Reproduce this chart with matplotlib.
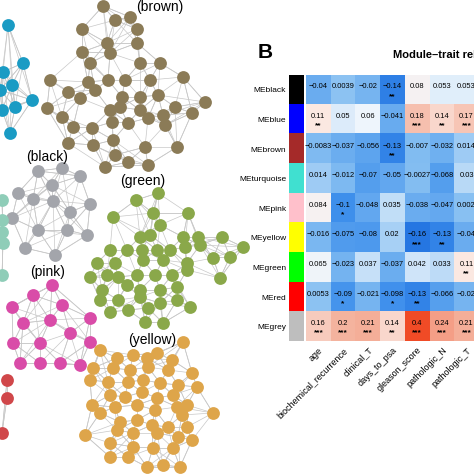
import numpy as np
import matplotlib.pyplot as plt
from matplotlib.colors import LinearSegmentedColormap, Normalize

plt.rcParams['font.family'] = ['Liberation Sans', 'DejaVu Sans']

# ---- panel A: module networks (node positions, in px) ----
brown_nodes = [(103,6),(115,20),(130,17),(137,29),(82,29),(107,43),(137,43),(82,52),(110,53),
               (140,63),(160,63),(90,63),(50,80),(88,82),(108,80),(125,80),(150,80),(183,77),
               (68,92),(95,90),(122,97),(140,97),(158,95),(175,107),(205,102),(47,108),(80,98),
               (110,110),(120,107),(140,110),(163,115),(192,113),(62,117),(73,127),(92,128),
               (112,122),(128,123),(148,118),(165,125),(68,143),(93,145),(113,140),(145,147),
               (177,147),(115,155),(128,162),(148,165),(105,167)]
blue_nodes = [(8,25),(23,63),(3,72),(12,85),(32,100),(15,107),(2,110),(10,133),(0,90)]
black_nodes = [(38,171),(62,168),(52,185),(80,176),(18,193),(33,199),(53,201),(90,204),(70,212),
               (12,218),(38,230),(67,230),(87,235),(25,248),(55,255)]
turquoise_nodes = [(2,200),(2,220),(2,232),(3,243),(2,275)]
green_nodes = [(136,200),(158,193),(188,213),(113,217),(153,213),(160,225),(140,237),(150,235),
               (183,237),(198,237),(222,237),(243,247),(110,250),(127,250),(142,250),(157,250),
               (170,250),(185,247),(200,245),(213,258),(97,263),(115,263),(143,260),(163,260),
               (187,263),(230,257),(90,277),(107,275),(118,277),(137,275),(155,275),(172,275),
               (187,270),(220,278),(102,290),(127,285),(140,290),(160,290),(177,287),(100,300),
               (118,300),(140,297),(160,303),(177,300),(190,307),(110,312),(128,310),(148,308),
               (145,322),(163,323)]
pink_nodes = [(52,285),(33,295),(12,307),(62,305),(50,320),(23,323),(90,318),(70,333),(13,343),
              (40,343),(90,342),(20,363),(40,363),(60,363),(80,365)]
yellow_nodes = [(183,342),(100,350),(117,358),(133,355),(147,358),(157,353),(172,360),(93,368),
                (113,368),(130,370),(148,367),(168,370),(192,373),(90,380),(108,382),(128,382),
                (143,380),(160,383),(178,385),(197,387),(110,395),(125,397),(142,392),(157,398),
                (173,395),(187,405),(92,405),(115,407),(137,405),(155,410),(177,407),(182,415),
                (213,413),(100,413),(120,422),(137,420),(152,425),(168,427),(187,427),(117,430),
                (85,435),(110,443),(133,433),(157,433),(178,437),(192,440),(133,447),(153,448),
                (173,448),(110,457),(128,457),(147,467),(163,465),(180,467)]
red_nodes = [(7,380),(7,398),(2,433)]

modules = [
    (brown_nodes, '#8b7b57', '(brown)', (160, 7)),
    (blue_nodes, '#1a9bc4', None, None),
    (black_nodes, '#a3a5ab', '(black)', (47, 157)),
    (turquoise_nodes, '#8fcdb8', None, None),
    (green_nodes, '#8aa84a', '(green)', (143, 181)),
    (pink_nodes, '#d94ca8', '(pink)', (48, 272)),
    (yellow_nodes, '#dea54a', '(yellow)', (152, 340)),
    (red_nodes, '#d0474a', None, None),
]

# ---- panel B: module-trait relationships ----
modules_me = ['MEblack', 'MEblue', 'MEbrown', 'MEturquoise', 'MEpink',
              'MEyellow', 'MEgreen', 'MEred', 'MEgrey']
me_colors = ['black', '#0000ff', '#a52a2a', '#40e0d0', '#ffc0cb',
             '#ffff00', '#00ff00', '#ff0000', '#bebebe']
traits = ['age', 'biochemical_recurrence', 'clinical_T', 'days_to_psa',
          'gleason_score', 'pathologic_N', 'pathologic_T']
corr = np.array([
    [-0.04, 0.0039, -0.02, -0.14, 0.08, 0.053, 0.053],
    [0.11, 0.05, 0.06, -0.041, 0.18, 0.14, 0.17],
    [-0.0083, -0.037, -0.056, -0.13, -0.007, -0.032, 0.014],
    [0.014, -0.012, -0.07, -0.05, -0.0027, -0.068, 0.03],
    [0.084, -0.1, -0.048, 0.035, -0.038, -0.047, 0.002],
    [-0.016, -0.075, -0.08, 0.02, -0.16, -0.13, -0.04],
    [0.065, -0.023, 0.037, -0.037, 0.042, 0.033, 0.11],
    [0.0053, -0.09, -0.021, -0.098, -0.13, -0.066, -0.02],
    [0.16, 0.2, 0.21, 0.14, 0.4, 0.24, 0.21],
])
stars = [
    ['', '', '', '**', '', '', ''],
    ['**', '', '', '', '***', '**', '***'],
    ['', '', '', '**', '', '', ''],
    ['', '', '', '', '', '', ''],
    ['', '*', '', '', '', '', ''],
    ['', '', '', '', '***', '**', ''],
    ['', '', '', '', '', '', '**'],
    ['', '*', '', '*', '**', '', ''],
    ['***', '***', '***', '**', '***', '***', '***'],
]

W = 474
fig = plt.figure(figsize=(W / 100, W / 100), dpi=100)

ax = fig.add_axes([0, 0, 1, 1])
ax.set_xlim(0, W)
ax.set_ylim(W, 0)
ax.axis('off')
for nodes, col, label, lpos in modules:
    pts = np.array(nodes, dtype=float)
    d = np.hypot(pts[:, None, 0] - pts[None, :, 0], pts[:, None, 1] - pts[None, :, 1])
    k = min(6, len(pts) - 1)
    for i in range(len(pts)):
        for j in np.argsort(d[i])[1:k + 1]:
            ax.plot([pts[i, 0], pts[j, 0]], [pts[i, 1], pts[j, 1]],
                    color='#c8c8c8', lw=0.5, zorder=1)
    ax.scatter(pts[:, 0], pts[:, 1], s=85, color=col, zorder=2, linewidths=0)
    if label:
        ax.text(lpos[0], lpos[1], label, fontsize=10, ha='center', va='center')

hm_left, hm_top, cw, rh = 306, 75, 24.7, 29.6
cax = fig.add_axes([289 / W, 1 - (hm_top + 9 * rh) / W, 15 / W, 9 * rh / W])
cax.imshow(np.arange(9)[:, None], cmap=LinearSegmentedColormap.from_list('me', me_colors, 9),
           aspect='auto')
cax.set_xticks([])
cax.set_yticks(range(9))
cax.set_yticklabels(modules_me, fontsize=6)
cax.tick_params(length=0, pad=2)
for s in cax.spines.values():
    s.set_visible(False)

vmin, vmax = -0.2, 0.45
stops = [(-0.2, '#1667dc'), (-0.1, '#3f90ec'), (0.0, '#86bff2'), (0.06, '#eef5fc'),
         (0.1, '#fcefea'), (0.2, '#f5b49f'), (0.45, '#f0320a')]
cmap = LinearSegmentedColormap.from_list(
    'rb', [((v - vmin) / (vmax - vmin), c) for v, c in stops])

hax = fig.add_axes([hm_left / W, 1 - (hm_top + 9 * rh) / W, len(traits) * cw / W, 9 * rh / W])
hax.imshow(corr, cmap=cmap, norm=Normalize(vmin, vmax), aspect='auto')
for i in range(corr.shape[0]):
    for j in range(corr.shape[1]):
        hax.text(j, i - 0.1, f'{corr[i, j]:g}'.replace('-', '\u2212'),
                 ha='center', va='center', fontsize=5.4)
        if stars[i][j]:
            hax.text(j, i + 0.22, stars[i][j], ha='center', va='center', fontsize=6,
                     fontweight='bold')
hax.set_yticks([])
hax.set_xticks(range(len(traits)))
hax.set_xticklabels(traits, rotation=45, ha='right', rotation_mode='anchor', fontsize=6.5)
hax.tick_params(length=0, pad=3)
for s in hax.spines.values():
    s.set_visible(False)

fig.text(258 / W, 1 - 53 / W, 'B', fontsize=15, fontweight='bold', va='center')
fig.text(393 / W, 1 - 55 / W, 'Module\u2013trait relationships', fontsize=8,
         fontweight='bold', ha='left', va='center')

fig.savefig('out.png', dpi=100)
